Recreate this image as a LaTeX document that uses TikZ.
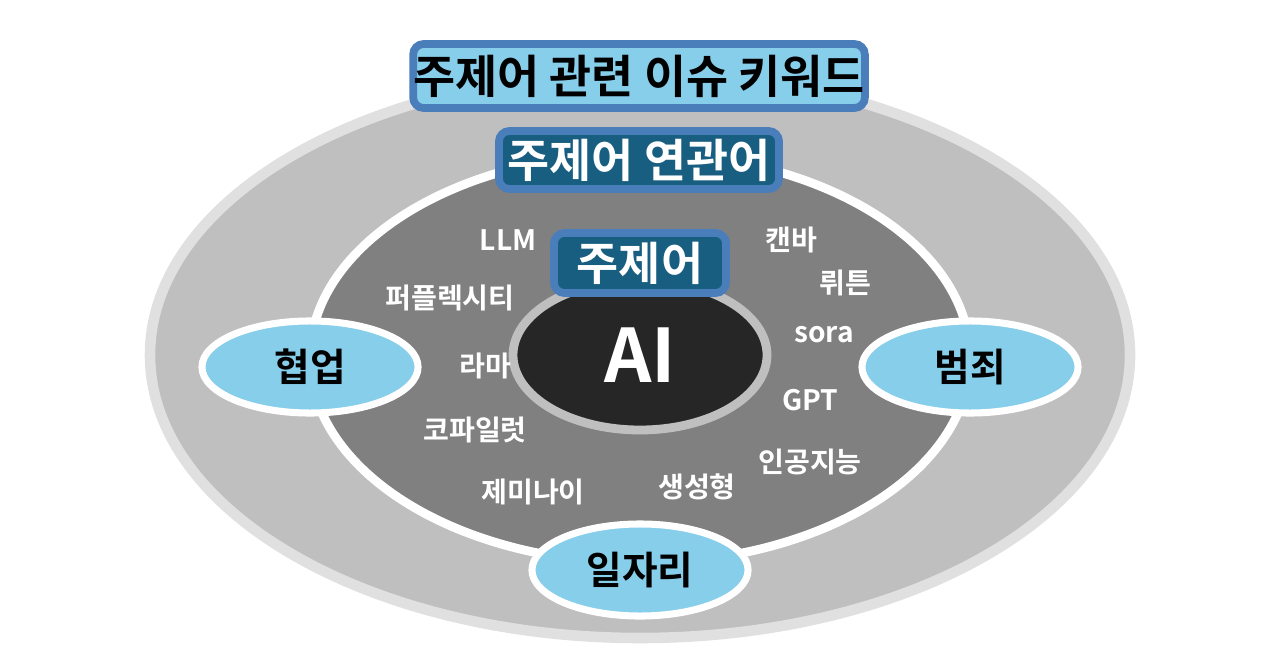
\documentclass[tikz,border=0pt]{standalone}
\usepackage{fontspec}
\setmainfont{Noto Sans CJK KR}[BoldFont={Noto Sans CJK KR Bold}]
\definecolor{lightblue}{HTML}{87CEEB}
\definecolor{edgeblue}{HTML}{4A7EBB}
\definecolor{darkteal}{HTML}{185E80}
\tikzset{
  titlebox/.style={draw=edgeblue, line width=2.2pt, rounded corners=3pt, fill=lightblue, font=\bfseries\fontsize{13}{15}\selectfont, inner sep=0pt},
  darkbox/.style={titlebox, fill=darkteal, text=white},
  keyword/.style={ellipse, draw=white, line width=2pt, fill=lightblue, font=\bfseries\fontsize{11}{13}\selectfont, minimum width=2.16cm, minimum height=0.92cm, inner sep=0pt},
  word/.style={text=white, font=\bfseries\fontsize{8}{10}\selectfont}
}
\usetikzlibrary{shapes.geometric}
\begin{document}
\begin{tikzpicture}[x=0.01cm, y=-0.01cm]
  \useasboundingbox (0,0) rectangle (1280,658);

  %rings
  \draw[fill=black!25, draw=black!12, line width=3pt] (640,355) ellipse [x radius=490, y radius=283];
  \draw[fill=black!50, draw=white, line width=2.5pt] (640,358) ellipse [x radius=330, y radius=205];
  \draw[fill=black!85, draw=black!25, line width=2.5pt] (640,355) ellipse [x radius=127, y radius=75];
  \node[text=white, font=\bfseries\fontsize{21}{24}\selectfont] (ai) at (640,355) {AI};

  %boxes
  \node[titlebox, minimum width=4.36cm, minimum height=0.64cm] (issue) at (639,76) {주제어 관련 이슈 키워드};
  \node[darkbox, minimum width=2.80cm, minimum height=0.58cm] (related) at (639,160) {주제어 연관어};
  \node[darkbox, minimum width=1.72cm, minimum height=0.60cm] (topic) at (640,263) {주제어};

  %keywords
  \node[keyword] (coop) at (310,367) {협업};
  \node[keyword] (crime) at (970,367) {범죄};
  \node[keyword] (jobs) at (640,570) {일자리};

  %words
  \foreach \x/\y/\txt/\name in {508/240/LLM/llm, 450/298/퍼플렉시티/perp, 485/366/라마/llama,
      475/430/코파일럿/copilot, 533/492/제미나이/gemini, 697/487/생성형/gen,
      810/462/인공지능/aiko, 810/400/GPT/gpt, 824/335/sora/sora, 845/283/뤼튼/wrtn, 791/240/캔바/canva}{
    \node[word] (\name) at (\x,\y) {\txt};
  }
\end{tikzpicture}
\end{document}
